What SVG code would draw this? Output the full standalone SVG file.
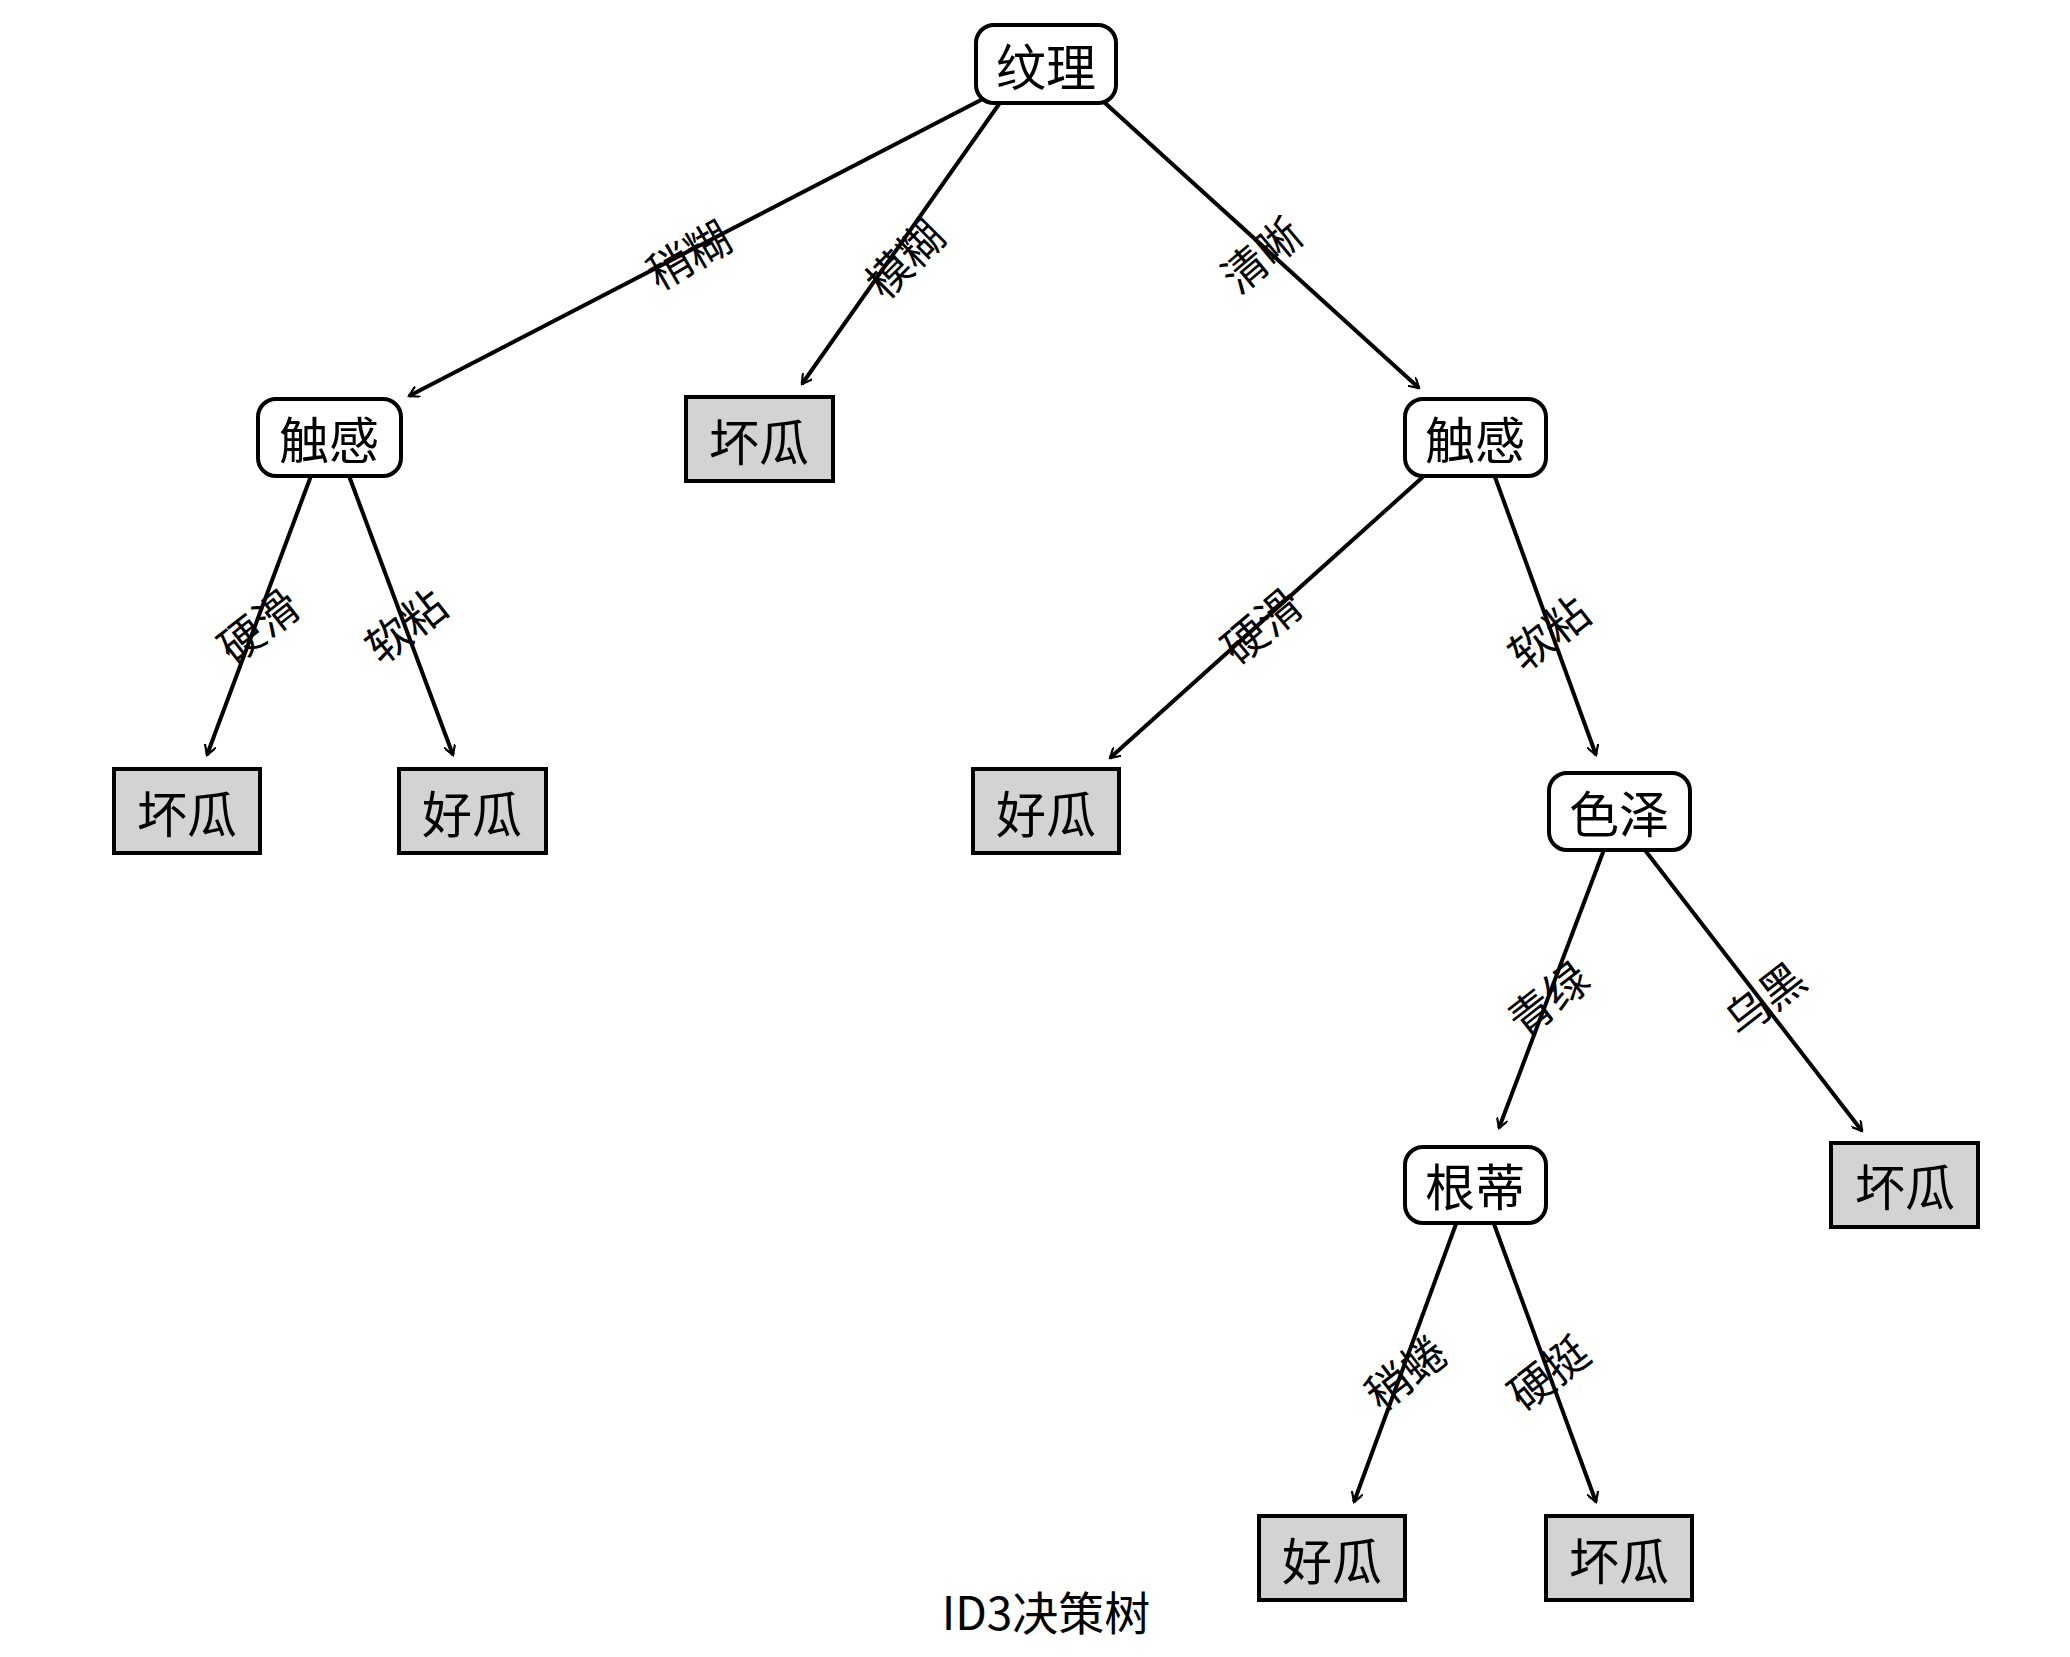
<svg xmlns="http://www.w3.org/2000/svg" width="2070" height="1657" viewBox="0 0 2070 1657">
<style>
text{font-family:"Noto Sans CJK SC","DejaVu Sans",sans-serif;fill:#000}
.n{font-size:50px;text-anchor:middle;dominant-baseline:central}
.l{font-size:44px;text-anchor:middle;dominant-baseline:central}
.d{fill:#fff;stroke:#000;stroke-width:4}
.f{fill:#d3d3d3;stroke:#000;stroke-width:4}
.e{stroke:#000;stroke-width:4;fill:none;marker-end:url(#a)}
</style>
<defs><marker id="a" markerWidth="12" markerHeight="12" refX="10" refY="6" orient="auto" markerUnits="userSpaceOnUse" viewBox="0 0 12 12"><path d="M0,0 L10,6 L0,12" fill="none" stroke="#000" stroke-width="2.2"/></marker></defs>
<rect width="2070" height="1657" fill="#fff"/>
<g id="connectors">
<line class="e" x1="1027" y1="76" x2="409" y2="396"/>
<line class="e" x1="1016" y1="80" x2="802" y2="384"/>
<line class="e" x1="1083" y1="83" x2="1419" y2="388"/>
<line class="e" x1="321" y1="449" x2="207" y2="755"/>
<line class="e" x1="339" y1="449" x2="453" y2="755"/>
<line class="e" x1="1464" y1="440" x2="1110" y2="758"/>
<line class="e" x1="1483" y1="444" x2="1596" y2="755"/>
<line class="e" x1="1614" y1="823" x2="1499" y2="1128"/>
<line class="e" x1="1624" y1="823" x2="1862" y2="1131"/>
<line class="e" x1="1467" y1="1194" x2="1354" y2="1502"/>
<line class="e" x1="1483" y1="1194" x2="1596" y2="1502"/>
<text class="l" transform="translate(687,253) rotate(-30)">稍糊</text>
<text class="l" transform="translate(903,257) rotate(-45)">模糊</text>
<text class="l" transform="translate(1260,253) rotate(-40)">清晰</text>
<text class="l" transform="translate(257,624) rotate(-38)">硬滑</text>
<text class="l" transform="translate(404,624) rotate(-38)">软粘</text>
<text class="l" transform="translate(1260,624) rotate(-40)">硬滑</text>
<text class="l" transform="translate(1547,631) rotate(-38)">软粘</text>
<text class="l" transform="translate(1547,997) rotate(-38)">青绿</text>
<text class="l" transform="translate(1763,997) rotate(-38)">乌黑</text>
<text class="l" transform="translate(1404,1371) rotate(-38)">稍蜷</text>
<text class="l" transform="translate(1547,1371) rotate(-38)">硬挺</text>
</g>
<g id="n1"><rect class="d" x="976" y="25" width="140" height="78" rx="18"/><text class="n" x="1046" y="64">纹理</text></g>
<g id="n2"><rect class="d" x="258" y="399" width="143" height="77" rx="18"/><text class="n" x="329" y="437">触感</text></g>
<g id="n3"><rect class="f" x="686" y="397" width="147" height="84"/><text class="n" x="759" y="439">坏瓜</text></g>
<g id="n4"><rect class="d" x="1405" y="399" width="141" height="77" rx="18"/><text class="n" x="1475" y="437">触感</text></g>
<g id="n5"><rect class="f" x="114" y="769" width="146" height="84"/><text class="n" x="187" y="811">坏瓜</text></g>
<g id="n6"><rect class="f" x="399" y="769" width="147" height="84"/><text class="n" x="472" y="811">好瓜</text></g>
<g id="n7"><rect class="f" x="973" y="769" width="146" height="84"/><text class="n" x="1046" y="811">好瓜</text></g>
<g id="n8"><rect class="d" x="1549" y="773" width="141" height="77" rx="18"/><text class="n" x="1619" y="811">色泽</text></g>
<g id="n9"><rect class="d" x="1405" y="1147" width="141" height="76" rx="18"/><text class="n" x="1475" y="1184">根蒂</text></g>
<g id="n10"><rect class="f" x="1831" y="1143" width="147" height="84"/><text class="n" x="1905" y="1184">坏瓜</text></g>
<g id="n11"><rect class="f" x="1259" y="1516" width="146" height="84"/><text class="n" x="1332" y="1558">好瓜</text></g>
<g id="n12"><rect class="f" x="1546" y="1516" width="146" height="84"/><text class="n" x="1619" y="1558">坏瓜</text></g>
<text x="1046" y="1610" font-size="46" text-anchor="middle" dominant-baseline="central">ID3决策树</text>
</svg>
